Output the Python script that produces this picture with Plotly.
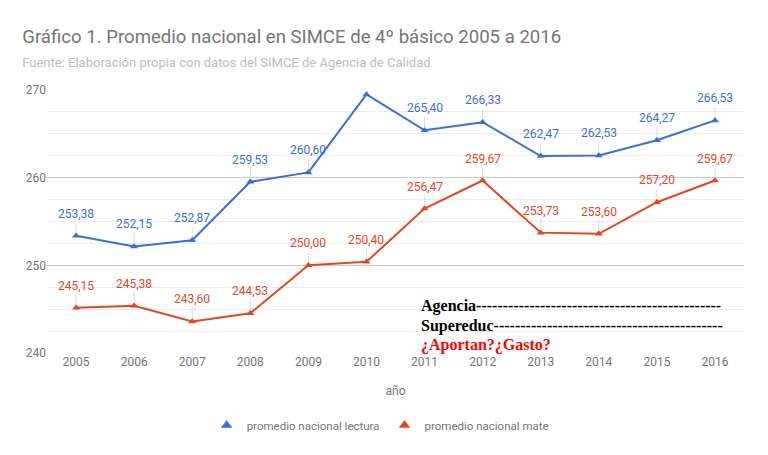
import plotly.graph_objects as go

years = [2005, 2006, 2007, 2008, 2009, 2010, 2011, 2012, 2013, 2014, 2015, 2016]
lectura = [253.38, 252.15, 252.87, 259.53, 260.60, 269.50, 265.40, 266.33, 262.47, 262.53, 264.27, 266.53]
lectura_labels = ["253,38", "252,15", "252,87", "259,53", "260,60", None, "265,40", "266,33", "262,47", "262,53", "264,27", "266,53"]
mate = [245.15, 245.38, 243.60, 244.53, 250.00, 250.40, 256.47, 259.67, 253.73, 253.60, 257.20, 259.67]
mate_labels = ["245,15", "245,38", "243,60", "244,53", "250,00", "250,40", "256,47", "259,67", "253,73", "253,60", "257,20", "259,67"]

BLUE = "#3a6fd6"
RED = "#e6461e"
FONT = "Roboto"

fig = go.Figure()
for name, vals, col in [("promedio nacional lectura", lectura, BLUE), ("promedio nacional mate", mate, RED)]:
    fig.add_trace(go.Scatter(x=years, y=vals, mode="lines+markers", name=name,
                             line=dict(color=col, width=2),
                             marker=dict(symbol="triangle-up", size=7, color=col),
                             showlegend=False, hoverinfo="skip"))
    fig.add_trace(go.Scatter(x=[None], y=[None], mode="markers", name=name,
                             marker=dict(symbol="triangle-up", size=10, color=col)))

annotations = []
for vals, labels, col in [(lectura, lectura_labels, BLUE), (mate, mate_labels, RED)]:
    for x, y, t in zip(years, vals, labels):
        if t is None:
            continue
        annotations.append(dict(x=x, y=y, xref="x", yref="y", text=t, showarrow=True,
                                arrowhead=0, arrowwidth=1, arrowcolor="#dddddd",
                                ax=0, ay=-22, standoff=3,
                                font=dict(family=FONT, size=12, color=col)))

note_x = 2010.9
annotations += [
    dict(x=note_x, y=245.4, xref="x", yref="y", xanchor="left", yanchor="middle",
         text="<b>Agencia----------------------------------------------</b>", showarrow=False,
         font=dict(family="Liberation Serif", size=16, color="black")),
    dict(x=note_x, y=243.1, xref="x", yref="y", xanchor="left", yanchor="middle",
         text="<b>Supereduc-------------------------------------------</b>", showarrow=False,
         font=dict(family="Liberation Serif", size=16, color="black")),
    dict(x=note_x, y=240.9, xref="x", yref="y", xanchor="left", yanchor="middle",
         text="<b>¿Aportan?¿Gasto?</b>", showarrow=False,
         font=dict(family="Liberation Serif", size=16, color="#ff0000")),
]

fig.update_layout(
    width=768, height=455,
    margin=dict(l=47, r=24, t=90, b=102),
    paper_bgcolor="white", plot_bgcolor="white",
    font=dict(family=FONT, color="#757575"),
    title=dict(text="Gráfico 1. Promedio nacional en SIMCE de 4º básico 2005 a 2016"
                    "<br><span style='font-size:13px;color:#bdbdbd'>Fuente: Elaboración propia con datos del SIMCE de Agencia de Calidad</span>",
               x=0.029, xanchor="left", y=0.905, yanchor="top",
               font=dict(family=FONT, size=18.6, color="#757575")),
    xaxis=dict(range=[2004.5, 2016.5], tickvals=years, showgrid=False, zeroline=False, showline=False,
               tickfont=dict(size=12, color="#757575"), ticks="",
               title=dict(text="año", font=dict(size=12, color="#757575"), standoff=18)),
    yaxis=dict(range=[240, 270], tickvals=[240, 250, 260, 270], showgrid=True,
               gridcolor="#cccccc", gridwidth=1, zeroline=False,
               tickfont=dict(size=12, color="#757575"),
               minor=dict(dtick=2.5, tick0=240, showgrid=True, gridcolor="#ececec", gridwidth=1)),
    legend=dict(orientation="h", x=0.478, xanchor="center", y=-0.22, yanchor="top",
                font=dict(size=11.5, color="#757575"), itemclick=False, itemdoubleclick=False,
                itemwidth=30),
    annotations=annotations,
)
fig.write_html("out.html")
